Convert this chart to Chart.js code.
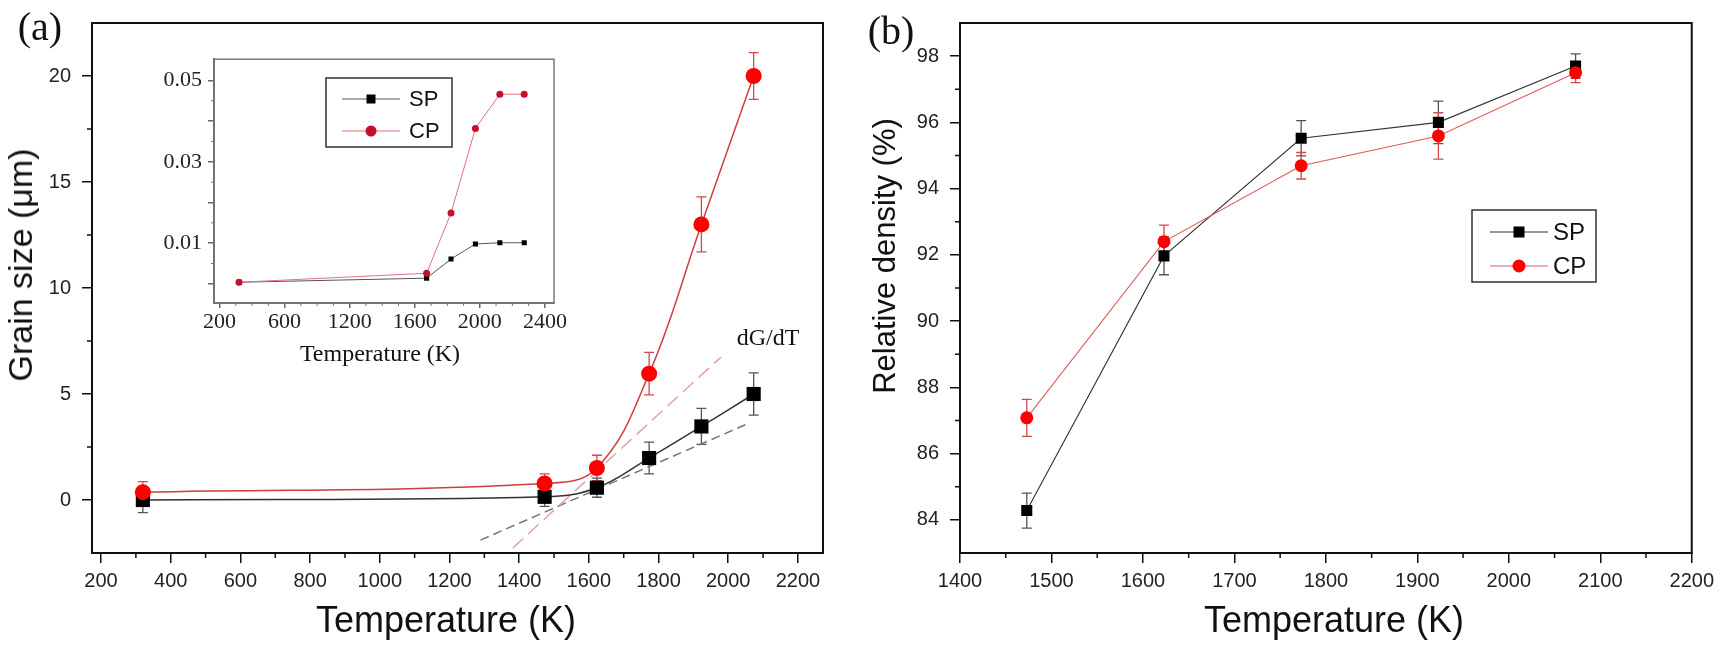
<!DOCTYPE html>
<html lang="en">
<head>
<meta charset="UTF-8">
<title>Grain size / relative density vs temperature</title>
<script src="https://cdn.jsdelivr.net/npm/chart.js@4.4.1/dist/chart.umd.min.js"></script>
<style>
    html, body { margin: 0; padding: 0; background: #fff; }
    #wrap { position: relative; width: 1720px; height: 645px; overflow: hidden; }
    canvas { position: absolute; }
    .lbl { position: absolute; white-space: nowrap; line-height: 1; color: #111; transform: translate(-50%, -50%); }
    .rot { transform: translate(-50%, -50%) rotate(-90deg); }
    .serif { font-family: 'Liberation Serif', 'Times New Roman', serif; }
    .sans { font-family: 'Liberation Sans', Arial, sans-serif; }
</style>
</head>
<body>
<div id="wrap">
    <canvas id="chartA" width="860" height="645" style="left:0;top:0"></canvas>
    <canvas id="chartInset" width="430" height="300" style="left:150px;top:40px"></canvas>
    <canvas id="chartB" width="860" height="645" style="left:860px;top:0"></canvas>

    <div class="lbl serif" style="left:40px;top:27px;font-size:40px">(a)</div>
    <div class="lbl serif" style="left:891px;top:31px;font-size:40px">(b)</div>
    <div class="lbl sans rot" style="left:20px;top:265px;font-size:34px">Grain size (μm)</div>
    <div class="lbl sans" style="left:446px;top:620px;font-size:36px">Temperature (K)</div>
    <div class="lbl sans rot" style="left:884px;top:256px;font-size:31px">Relative density (%)</div>
    <div class="lbl sans" style="left:1334px;top:620px;font-size:36px">Temperature (K)</div>
    <div class="lbl serif" style="left:768px;top:337px;font-size:24px">dG/dT</div>
    <div class="lbl serif" style="left:380px;top:353px;font-size:24px">Temperature (K)</div>
</div>

<script>
    // ---- data (a) grain size ----
    var temps = [320, 1473, 1623, 1773, 1923, 2073];
    var grainSP = [0.0, 0.15, 0.58, 1.98, 3.47, 5.0];
    var grainCP = [0.37, 0.78, 1.51, 5.96, 13.0, 20.0];
    var grainErrSP = [0.6, 0.45, 0.45, 0.75, 0.85, 1.0];
    var grainErrCP = [0.5, 0.45, 0.6, 1.0, 1.3, 1.1];

    // dG/dT tangent lines (end points)
    var tangentCP_T = [1382, 1979];
    var tangentCP_G = [-2.26, 6.74];
    var tangentSP_T = [1289, 2049];
    var tangentSP_G = [-1.89, 3.55];

    // inset
    var insetSP = [0.0004, 0.0014, 0.0061, 0.0098, 0.0101, 0.0101];
    var insetCP = [0.0004, 0.0026, 0.0174, 0.0382, 0.0466, 0.0466];

    // ---- data (b) relative density ----
    var densTemps = [1473, 1623, 1773, 1923, 2073];
    var densSP = [84.28, 91.97, 95.52, 96.0, 97.7];
    var densCP = [87.08, 92.4, 94.69, 95.59, 97.5];
    var densErrSP = [0.53, 0.57, 0.53, 0.64, 0.37];
    var densErrCP = [0.56, 0.5, 0.4, 0.7, 0.3];

    // ---- tick labels ----
    var gxTicks = [200, 400, 600, 800, 1000, 1200, 1400, 1600, 1800, 2000, 2200];
    var gyTicks = [0, 5, 10, 15, 20];
    var insetXTicks = [200, 600, 1000, 1400, 1800, 2200];
    var insetXLabels = ['200', '600', '1200', '1600', '2000', '2400'];
    var insetYTicks = [0, 0.01, 0.02, 0.03, 0.04, 0.05];
    var insetYLabels = ['', '0.01', '', '0.03', '', '0.05'];
    var dxTicks = [1400, 1500, 1600, 1700, 1800, 1900, 2000, 2100, 2200];
    var dyTicks = [84, 86, 88, 90, 92, 94, 96, 98];

    var SANS = "'Liberation Sans', Arial, sans-serif";
    var SERIF = "'Liberation Serif', 'Times New Roman', serif";

    function pts(xs, ys) {
        return xs.map(function (x, i) { return { x: x, y: ys[i] }; });
    }
    function between(list) { // minor tick positions halfway between majors
        var out = [];
        for (var i = 0; i < list.length - 1; i++) out.push((list[i] + list[i + 1]) / 2);
        return out;
    }

    // frame + minor ticks
    var framePlugin = {
        id: 'frame',
        afterDraw: function (chart, args, o) {
            var ctx = chart.ctx, a = chart.chartArea, x = chart.scales.x, y = chart.scales.y;
            ctx.save();
            ctx.strokeStyle = o.color;
            ctx.lineWidth = o.width;
            ctx.strokeRect(a.left, a.top, a.right - a.left, a.bottom - a.top);
            ctx.lineWidth = o.tickWidth;
            ctx.beginPath();
            (o.minorX || []).forEach(function (v) {
                var px = x.getPixelForValue(v);
                ctx.moveTo(px, a.bottom); ctx.lineTo(px, a.bottom + o.minorLen);
            });
            (o.minorY || []).forEach(function (v) {
                var py = y.getPixelForValue(v);
                ctx.moveTo(a.left, py); ctx.lineTo(a.left - o.minorLen, py);
            });
            ctx.stroke();
            ctx.restore();
        }
    };

    // error bars, drawn under the markers
    var errorBarPlugin = {
        id: 'errorBars',
        beforeDatasetsDraw: function (chart, args, o) {
            var ctx = chart.ctx, x = chart.scales.x, y = chart.scales.y;
            chart.data.datasets.forEach(function (ds) {
                if (!ds.errors) return;
                ctx.save();
                ctx.strokeStyle = ds.errorColor;
                ctx.lineWidth = 1.3;
                ds.data.forEach(function (p, k) {
                    var px = x.getPixelForValue(p.x);
                    var top = y.getPixelForValue(p.y + ds.errors[k]);
                    var bot = y.getPixelForValue(p.y - ds.errors[k]);
                    ctx.beginPath();
                    ctx.moveTo(px, top); ctx.lineTo(px, bot);
                    ctx.moveTo(px - o.cap, top); ctx.lineTo(px + o.cap, top);
                    ctx.moveTo(px - o.cap, bot); ctx.lineTo(px + o.cap, bot);
                    ctx.stroke();
                });
                ctx.restore();
            });
        }
    };

    // boxed legend: line + marker + text
    var boxLegendPlugin = {
        id: 'boxLegend',
        afterDraw: function (chart, args, o) {
            if (!o.box) return;
            var ctx = chart.ctx;
            ctx.save();
            ctx.fillStyle = '#fff';
            ctx.fillRect(o.box[0], o.box[1], o.box[2], o.box[3]);
            ctx.strokeStyle = o.borderColor;
            ctx.lineWidth = 1.5;
            ctx.strokeRect(o.box[0], o.box[1], o.box[2], o.box[3]);
            o.items.forEach(function (idx, k) {
                var ds = chart.data.datasets[idx];
                var yy = o.rowsY[k];
                var mx = (o.lineX[0] + o.lineX[1]) / 2;
                ctx.strokeStyle = ds.borderColor;
                ctx.lineWidth = 1.2;
                ctx.beginPath(); ctx.moveTo(o.lineX[0], yy); ctx.lineTo(o.lineX[1], yy); ctx.stroke();
                ctx.fillStyle = ds.pointBackgroundColor;
                var r = o.markerR[k];
                if (ds.pointStyle === 'rect') {
                    ctx.fillRect(mx - r, yy - r, 2 * r, 2 * r);
                } else {
                    ctx.beginPath(); ctx.arc(mx, yy, r, 0, Math.PI * 2); ctx.fill();
                }
                ctx.fillStyle = '#111';
                ctx.font = o.font;
                ctx.textBaseline = 'middle';
                ctx.fillText(ds.label, o.textX, yy + 1);
            });
            ctx.restore();
        }
    };

    Chart.register(framePlugin, errorBarPlugin, boxLegendPlugin);

    function xAxis(min, max, ticks, labels, height, font, pad, tickLen, color) {
        return {
            type: 'linear', min: min, max: max,
            afterBuildTicks: function (s) { s.ticks = ticks.map(function (v) { return { value: v }; }); },
            afterFit: function (s) { s.height = height; },
            ticks: {
                font: font, color: '#222', padding: pad, maxRotation: 0, autoSkip: false,
                callback: function (v, i) { return labels ? labels[i] : String(v); }
            },
            grid: { drawOnChartArea: false, tickLength: tickLen, color: color, lineWidth: 1.5 },
            border: { color: color, width: 2 }
        };
    }
    function yAxis(min, max, ticks, labels, width, font, pad, tickLen, color) {
        var ax = xAxis(min, max, ticks, labels, 0, font, pad, tickLen, color);
        ax.afterFit = function (s) { s.width = width; };
        return ax;
    }

    var baseOpts = {
        responsive: false,
        animation: false,
        devicePixelRatio: 1,
        events: []
    };

    // ---------- (a) ----------
    new Chart(document.getElementById('chartA'), {
        type: 'line',
        data: {
            datasets: [{
                label: 'CP', order: 1,
                data: pts(temps, grainCP), errors: grainErrCP, errorColor: '#d24a4a',
                borderColor: '#d23c3c', borderWidth: 1.5, tension: 0.4,
                pointStyle: 'circle', pointRadius: 8, pointBackgroundColor: '#ff0000', pointBorderWidth: 0
            }, {
                label: 'SP', order: 2,
                data: pts(temps, grainSP), errors: grainErrSP, errorColor: '#555',
                borderColor: '#333', borderWidth: 1.5, tension: 0.4,
                pointStyle: 'rect', pointRadius: 10, pointBackgroundColor: '#000', pointBorderWidth: 0
            }, {
                label: 'dG/dT CP', order: 3,
                data: pts(tangentCP_T, tangentCP_G),
                borderColor: '#e3a0aa', borderWidth: 1.5, borderDash: [14, 7], pointRadius: 0
            }, {
                label: 'dG/dT SP', order: 3,
                data: pts(tangentSP_T, tangentSP_G),
                borderColor: '#777', borderWidth: 1.5, borderDash: [9, 5], pointRadius: 0
            }]
        },
        options: Object.assign({}, baseOpts, {
            layout: { padding: { left: 0, top: 19, right: 37, bottom: 0 } },
            scales: {
                x: xAxis(174, 2272, gxTicks, null, 92, { family: SANS, size: 20 }, 6, 10, '#111'),
                y: yAxis(-2.5, 22.5, gyTicks, null, 92, { family: SANS, size: 20 }, 11, 10, '#111')
            },
            plugins: {
                legend: { display: false }, tooltip: { enabled: false },
                frame: { color: '#111', width: 2, tickWidth: 1.5, minorLen: 5, minorX: between(gxTicks), minorY: between(gyTicks) },
                errorBars: { cap: 5 }
            }
        })
    });

    // ---------- inset ----------
    new Chart(document.getElementById('chartInset'), {
        type: 'line',
        data: {
            datasets: [{
                label: 'SP', order: 2,
                data: pts(temps, insetSP),
                borderColor: '#555', borderWidth: 1, tension: 0,
                pointStyle: 'rect', pointRadius: 3.6, pointBackgroundColor: '#000', pointBorderWidth: 0
            }, {
                label: 'CP', order: 1,
                data: pts(temps, insetCP),
                borderColor: '#e27080', borderWidth: 1, tension: 0,
                pointStyle: 'circle', pointRadius: 3.5, pointBackgroundColor: '#c4102a', pointBorderWidth: 0
            }]
        },
        options: Object.assign({}, baseOpts, {
            layout: { padding: { left: 0, top: 14, right: 26, bottom: 0 } },
            scales: {
                x: xAxis(166, 2256, insetXTicks, insetXLabels, 37, { family: SERIF, size: 22 }, 1, 5, '#666'),
                y: yAxis(-0.0047, 0.0552, insetYTicks, insetYLabels, 64, { family: SERIF, size: 22 }, 6, 6, '#666')
            },
            plugins: {
                legend: { display: false }, tooltip: { enabled: false },
                frame: { color: '#777', width: 1.5, tickWidth: 1, minorLen: 3, minorX: [300, 400, 500, 700, 800, 900, 1100, 1200, 1300, 1500, 1600, 1700, 1900, 2000, 2100], minorY: between(insetYTicks) },
                boxLegend: {
                    box: [176, 38, 126, 69], borderColor: '#333', items: [0, 1], rowsY: [59, 91],
                    lineX: [192, 250], markerR: [4.5, 5.5], textX: 259, font: "22px 'Liberation Sans', Arial, sans-serif"
                }
            }
        })
    });

    // ---------- (b) ----------
    new Chart(document.getElementById('chartB'), {
        type: 'line',
        data: {
            datasets: [{
                label: 'SP', order: 2,
                data: pts(densTemps, densSP), errors: densErrSP, errorColor: '#555',
                borderColor: '#333', borderWidth: 1.1, tension: 0,
                pointStyle: 'rect', pointRadius: 7.8, pointBackgroundColor: '#000', pointBorderWidth: 0
            }, {
                label: 'CP', order: 1,
                data: pts(densTemps, densCP), errors: densErrCP, errorColor: '#d24a4a',
                borderColor: '#e05a5a', borderWidth: 1.1, tension: 0,
                pointStyle: 'circle', pointRadius: 6.5, pointBackgroundColor: '#ff0000', pointBorderWidth: 0
            }]
        },
        options: Object.assign({}, baseOpts, {
            layout: { padding: { left: 0, top: 19, right: 27, bottom: 0 } },
            scales: {
                x: xAxis(1400, 2200, dxTicks, null, 92, { family: SANS, size: 20 }, 6, 10, '#111'),
                y: yAxis(83, 99, dyTicks, null, 100, { family: SANS, size: 20 }, 11, 10, '#111')
            },
            plugins: {
                legend: { display: false }, tooltip: { enabled: false },
                frame: { color: '#111', width: 2, tickWidth: 1.5, minorLen: 5, minorX: between(dxTicks), minorY: between(dyTicks) },
                errorBars: { cap: 5 },
                boxLegend: {
                    box: [612, 210, 124, 72], borderColor: '#333', items: [0, 1], rowsY: [232, 266],
                    lineX: [630, 688], markerR: [5.5, 6.5], textX: 693, font: "24px 'Liberation Sans', Arial, sans-serif"
                }
            }
        })
    });
</script>
</body>
</html>
